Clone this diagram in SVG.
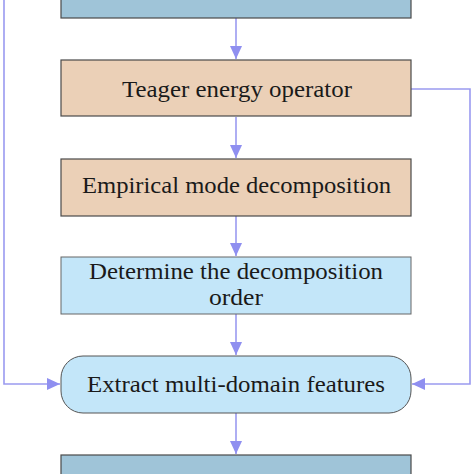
<svg xmlns="http://www.w3.org/2000/svg" width="474" height="474" viewBox="0 0 474 474">
<style>
.box{stroke:#4a4a4a;stroke-width:1.2}
.steel{fill:#9fc4d8}
.peach{fill:#ebd0b7}
.light{fill:#c3e6f9}
.lbl{font-family:"Liberation Serif","DejaVu Serif",serif;font-size:24px;fill:#1a1a1a;text-anchor:middle}
.conn{fill:none;stroke:#9a9af0;stroke-width:1.6}
</style>
<defs>
<marker id="ah" markerWidth="13" markerHeight="13" viewBox="0 0 14 13" refX="14" refY="6.5" orient="auto" markerUnits="userSpaceOnUse">
<path d="M0,0 L14,6.5 L0,13 Z" fill="#8f8ff0"/>
</marker>
</defs>
<rect width="474" height="474" fill="#ffffff"/>
<g id="connectors">
<line class="conn" x1="236" y1="18" x2="236" y2="59" marker-end="url(#ah)"/>
<line class="conn" x1="236" y1="117" x2="236" y2="158" marker-end="url(#ah)"/>
<line class="conn" x1="236" y1="216" x2="236" y2="256" marker-end="url(#ah)"/>
<line class="conn" x1="236" y1="314" x2="236" y2="355" marker-end="url(#ah)"/>
<line class="conn" x1="236" y1="413" x2="236" y2="454" marker-end="url(#ah)"/>
<polyline class="conn" points="4,0 4,384 60,384" marker-end="url(#ah)"/>
<polyline class="conn" points="411,89 470,89 470,384 412,384" marker-end="url(#ah)"/>
</g>
<g id="node-top">
<rect class="box steel" x="61" y="-10" width="350" height="28"/>
</g>
<g id="node-teager">
<rect class="box peach" x="61" y="60" width="350" height="56"/>
<text class="lbl" x="237" y="97" textLength="230" lengthAdjust="spacingAndGlyphs">Teager energy operator</text>
</g>
<g id="node-emd">
<rect class="box peach" x="61" y="159" width="350" height="57"/>
<text class="lbl" x="236.5" y="193" textLength="309" lengthAdjust="spacingAndGlyphs">Empirical mode decomposition</text>
</g>
<g id="node-order">
<rect class="light" x="61" y="257" width="350" height="57" stroke="#666" stroke-width="1"/>
<text class="lbl" x="236" y="279" textLength="294" lengthAdjust="spacingAndGlyphs">Determine the decomposition</text>
<text class="lbl" x="236" y="305" textLength="54" lengthAdjust="spacingAndGlyphs">order</text>
</g>
<g id="node-extract">
<rect class="light" x="61" y="356" width="350" height="57" rx="22" ry="22" stroke="#555" stroke-width="1"/>
<text class="lbl" x="236" y="392" textLength="298" lengthAdjust="spacingAndGlyphs">Extract multi-domain features</text>
</g>
<g id="node-bottom">
<rect class="box steel" x="61" y="455" width="350" height="30"/>
</g>
</svg>
